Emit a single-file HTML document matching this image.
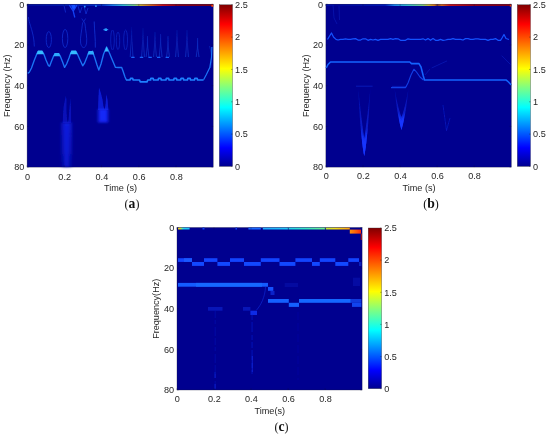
<!DOCTYPE html>
<html>
<head>
<meta charset="utf-8">
<title>Time-frequency figure</title>
<style>
html,body{margin:0;padding:0;background:#fff;}
svg{display:block;}
.t{font-family:"Liberation Sans",Arial,sans-serif;font-size:9.1px;fill:#262626;}
.cap{font-family:"Liberation Serif","DejaVu Serif",serif;font-size:12px;fill:#111;}
.cap tspan{font-weight:bold;font-size:13.6px;}
</style>
</head>
<body>
<svg width="550" height="436" viewBox="0 0 550 436">
<defs>
<linearGradient id="jet" x1="0" y1="1" x2="0" y2="0">
<stop offset="0" stop-color="#00008f"/>
<stop offset="0.115" stop-color="#0000ff"/>
<stop offset="0.365" stop-color="#00ffff"/>
<stop offset="0.49" stop-color="#80ff80"/>
<stop offset="0.605" stop-color="#ffff00"/>
<stop offset="0.88" stop-color="#ff0000"/>
<stop offset="1" stop-color="#800000"/>
</linearGradient>
<linearGradient id="topa" gradientUnits="userSpaceOnUse" x1="27" y1="0" x2="213" y2="0">
<stop offset="0" stop-color="#00109f"/>
<stop offset="0.40" stop-color="#0030d0"/>
<stop offset="0.46" stop-color="#2090ff"/>
<stop offset="0.52" stop-color="#40e0e0"/>
<stop offset="0.58" stop-color="#90f080"/>
<stop offset="0.61" stop-color="#f0d020"/>
<stop offset="0.67" stop-color="#ff7000"/>
<stop offset="0.73" stop-color="#f01000"/>
<stop offset="0.82" stop-color="#a00000"/>
<stop offset="1" stop-color="#900000"/>
</linearGradient>
<linearGradient id="topb" gradientUnits="userSpaceOnUse" x1="325.7" y1="0" x2="511.3" y2="0">
<stop offset="0" stop-color="#0014b8"/>
<stop offset="0.05" stop-color="#00089c"/>
<stop offset="0.32" stop-color="#0020c0"/>
<stop offset="0.37" stop-color="#20a0ff"/>
<stop offset="0.44" stop-color="#40e0d8"/>
<stop offset="0.52" stop-color="#90f080"/>
<stop offset="0.555" stop-color="#f0d820"/>
<stop offset="0.585" stop-color="#ff9000"/>
<stop offset="0.602" stop-color="#a04818"/>
<stop offset="0.625" stop-color="#ff8000"/>
<stop offset="0.67" stop-color="#f01800"/>
<stop offset="0.80" stop-color="#b00000"/>
<stop offset="1" stop-color="#980000"/>
</linearGradient>
<linearGradient id="fadeDown" x1="0" y1="0" x2="0" y2="1">
<stop offset="0" stop-color="#1226f0" stop-opacity="0.6"/>
<stop offset="0.6" stop-color="#1020e0" stop-opacity="0.5"/>
<stop offset="1" stop-color="#0c18c8" stop-opacity="0.3"/>
</linearGradient>
<filter id="b1" x="-20%" y="-20%" width="140%" height="140%"><feGaussianBlur stdDeviation="0.45"/></filter>
<filter id="b3" x="-30%" y="-20%" width="160%" height="140%"><feGaussianBlur stdDeviation="0.7"/></filter>
<filter id="b2" x="-50%" y="-20%" width="200%" height="140%"><feGaussianBlur stdDeviation="1.5 1.2"/></filter>
<linearGradient id="vg1" gradientUnits="userSpaceOnUse" x1="0" y1="88" x2="0" y2="156"><stop offset="0" stop-color="#1028e0" stop-opacity="0.25"/><stop offset="0.6" stop-color="#1230f0" stop-opacity="0.6"/><stop offset="0.8" stop-color="#1434ff" stop-opacity="1"/><stop offset="1" stop-color="#1434ff" stop-opacity="1"/></linearGradient>
<linearGradient id="vg2" gradientUnits="userSpaceOnUse" x1="0" y1="88" x2="0" y2="130"><stop offset="0" stop-color="#1028e0" stop-opacity="0.25"/><stop offset="0.6" stop-color="#1230f0" stop-opacity="0.6"/><stop offset="0.8" stop-color="#1434ff" stop-opacity="1"/><stop offset="1" stop-color="#1434ff" stop-opacity="1"/></linearGradient>
<linearGradient id="c1"><stop offset="0" stop-color="#f0c818"/><stop offset="0.2" stop-color="#d0e030"/><stop offset="0.35" stop-color="#60e8a0"/><stop offset="0.5" stop-color="#20d0f0"/><stop offset="1" stop-color="#20c0f8"/></linearGradient>
<linearGradient id="c2"><stop offset="0" stop-color="#20a8ff"/><stop offset="1" stop-color="#20c8f4"/></linearGradient>
<linearGradient id="c3"><stop offset="0" stop-color="#20d4ec"/><stop offset="0.5" stop-color="#38e8c0"/><stop offset="1" stop-color="#70f088"/></linearGradient>
<linearGradient id="c4"><stop offset="0" stop-color="#c0e838"/><stop offset="0.4" stop-color="#f0dc18"/><stop offset="1" stop-color="#ffa008"/></linearGradient>
<linearGradient id="c5"><stop offset="0" stop-color="#ff9008"/><stop offset="0.5" stop-color="#ff6008"/><stop offset="1" stop-color="#ff2808"/></linearGradient>
<linearGradient id="vfade" gradientUnits="userSpaceOnUse" x1="0" y1="24" x2="0" y2="58"><stop offset="0" stop-color="#1a58f8" stop-opacity="0"/><stop offset="0.5" stop-color="#1a58f8" stop-opacity="0.3"/><stop offset="1" stop-color="#2068ff" stop-opacity="0.55"/></linearGradient>
</defs>
<rect x="0" y="0" width="550" height="436" fill="#ffffff"/>

<!-- ============ (a) ============ -->
<g id="pa">
<rect x="27.1" y="4.2" width="186.1" height="162.9" fill="#00008f"/>
<rect x="27.1" y="4.2" width="186.1" height="1.6" fill="url(#topa)"/>
<rect x="211.4" y="4.6" width="1.8" height="2.2" fill="#ff4000"/>
<g fill="none" stroke="#1848f4" stroke-width="0.85" opacity="0.6" filter="url(#b1)">
<path d="M28.3 17C29.5 24 31 27 32 31C33.6 37 34.2 41 34.3 46.5"/>
<ellipse cx="48.8" cy="39.6" rx="2.6" ry="8.0"/>
<ellipse cx="65.1" cy="38.5" rx="2.7" ry="9.1"/>
<path d="M81.8 18.5C82.6 20.5 84.8 22 85 24C85.4 30 87.4 38 86.6 43C86 46.5 84.6 47.6 83.7 47.6C82.8 47.6 81.2 46.5 80.6 43C79.8 38 82 30 82.4 24C82.6 22 84.8 20.5 85.6 18.5"/>
<path d="M94.2 21.5C94.4 30 95.6 40 95.3 47.6" stroke="#1c54ff" opacity="1"/>
<path d="M64 5.5L65.6 12.5M78 6L80 13L82 7M84 6L86 14L88 8"/>
</g>
<path d="M69.4 5.2L73.2 11L76.8 5.2M73.2 11L74.8 17.5" fill="none" stroke="#1648ff" stroke-width="1.3" opacity="0.9" filter="url(#b1)"/>
<path d="M70.8 5.3H75.6L73.3 10Z" fill="#164cff" filter="url(#b1)"/>
<path d="M105.8 25V34" stroke="#1c60ff" stroke-width="0.8" opacity="0.7" filter="url(#b1)"/>
<g fill="none" stroke="#1848f4" stroke-width="0.8" opacity="0.5" filter="url(#b1)">
<ellipse cx="112.5" cy="40.0" rx="1.8" ry="10.0"/>
<ellipse cx="118" cy="40.8" rx="1.7" ry="8.8"/>
<ellipse cx="125.6" cy="40.0" rx="1.9" ry="10.0"/>
</g>
<g fill="none" stroke="url(#vfade)" stroke-width="0.8" filter="url(#b1)">
<path d="M130.2 57L131.4 37L131.6 27L131.79999999999998 37L133.0 57"/>
<path d="M141.6 57L142.8 38L143 28L143.2 38L144.4 57"/>
<path d="M146.1 57L147.3 46L147.5 36L147.7 46L148.9 57"/>
<path d="M153.6 57L154.8 42L155 32L155.2 42L156.4 57"/>
<path d="M159.2 57L160.4 44L160.6 34L160.79999999999998 44L162.0 57"/>
<path d="M166.6 57L167.8 46L168 36L168.2 46L169.4 57"/>
<path d="M175.6 57L176.8 40L177 30L177.2 40L178.4 57"/>
<path d="M185.6 57L186.8 40L187 30L187.2 40L188.4 57"/>
<path d="M196.2 57L197.4 48L197.6 38L197.79999999999998 48L199.0 57"/>
</g>
<path d="M209.5 46C212.2 55 212.2 62 210.5 68" fill="none" stroke="#1a58f8" stroke-width="0.7" opacity="0.5" filter="url(#b1)"/>
<g fill="#2a9cff" filter="url(#b1)"><rect x="104.6" y="28.4" width="2.4" height="2.6"/><rect x="103.4" y="29.2" width="4.8" height="1"/><rect x="84" y="5.8" width="1.6" height="1.6"/><rect x="95" y="5.4" width="1.8" height="1.4"/><rect x="72.2" y="5" width="3" height="3.5" fill="#1450ff"/></g>
<path d="M131.2 57.4H171" stroke="#1a68ff" stroke-width="1.3" stroke-dasharray="3.4 5.2" opacity="0.95"/>
<path d="M27.6 73.4L29.3 72.2L31.5 68L34 61L36.8 54L38 51.6H42.3L43.8 54L46 60L48.4 65.6L49.6 66.2L51.2 62L53.6 56L54.8 54H59L60.4 56.4L62.6 62L64.6 67.4L66.6 64L69 58L70.4 54L71.6 51.6H76L77.4 54L79.6 59L82.7 65.8L84.6 63L87 57L88.7 52.4H92.8L94.5 57L97 65L98.8 70L101 64L103.6 54L106.6 47L108.6 51L111.5 58L115.4 67.3L118.3 67.5H121.7L123 71L125 77L126.3 79.9" fill="none" stroke="#1a74f6" stroke-width="1.35" stroke-linejoin="round"/>
<g fill="#36bcff"><path d="M36.5 54.3L38 50.4H42.3L43.9 54.3Z"/><path d="M53.3 56.3L54.6 52.9H59L60.3 56.3Z" fill="#2eaaff"/><path d="M69.9 54.3L71.4 50.4H76L77.5 54.3Z"/><path d="M87.6 54.4L88.6 51H92.4L92.6 50.2L93.4 51.4L94.2 54.4Z" fill="#2eaaff"/><path d="M104.6 51.6L106.6 46.4L108.6 51.6Z"/></g>
<path d="M126 80H130L130.6 78.4H132.6L133.2 80H139.5L140.2 81.8H147L147.8 80H150.6H150.4L150.9 78.3H153.1L153.6 80H158.1L158.6 78.3H160.8L161.3 80H165.9L166.4 78.3H168.6L169.1 80H173.7L174.2 78.3H176.4L176.9 80H180.6L181.1 78.3H183.3L183.8 80H187.4L187.9 78.3H190.1L190.6 80H194.4L194.9 78.3H197.1L197.6 80H203.6" fill="none" stroke="#1e80ff" stroke-width="1.7" stroke-linejoin="round"/>
<path d="M203.6 79.8L206.4 74.5L209.8 67.6L211.5 57.3L211.9 47" fill="none" stroke="#1c74f8" stroke-width="1.2" stroke-linejoin="round"/>
<g filter="url(#b2)">
<rect x="61.4" y="122.5" width="10.6" height="45" fill="url(#fadeDown)"/>
<rect x="64.2" y="123" width="4.8" height="44" fill="#1424f4" opacity="0.5"/>
<rect x="98.2" y="109" width="9.8" height="13.6" fill="#1428ff" opacity="0.85"/>
<rect x="100" y="110" width="6.4" height="10" fill="#1830ff" opacity="0.5"/>
</g>
<g filter="url(#b3)">
<path d="M62.6 123L63.4 108L65.6 96L66.6 99.5L66.5 110L67 119L67.8 123Z M67.8 123L68.6 119L69.4 108L70.4 98L71 108L71.2 123Z" fill="#1226e8" opacity="0.45"/>
<path d="M98 110L98.4 98L99 87.5L100.6 92L102.6 100L103.4 106L104.6 110Z M104.6 110L105.6 104L106.4 94L107.6 100L108.4 110Z" fill="#162cff" opacity="0.6"/>
</g>
<text class="t" x="24.3" y="7.5" text-anchor="end">0</text>
<text class="t" x="24.3" y="48.2" text-anchor="end">20</text>
<text class="t" x="24.3" y="89.0" text-anchor="end">40</text>
<text class="t" x="24.3" y="129.7" text-anchor="end">60</text>
<text class="t" x="24.3" y="170.4" text-anchor="end">80</text>
<text class="t" x="27.5" y="180.1" text-anchor="middle">0</text>
<text class="t" x="64.7" y="180.1" text-anchor="middle">0.2</text>
<text class="t" x="101.9" y="180.1" text-anchor="middle">0.4</text>
<text class="t" x="139.2" y="180.1" text-anchor="middle">0.6</text>
<text class="t" x="176.4" y="180.1" text-anchor="middle">0.8</text>
<text class="t" x="235.1" y="169.7">0</text>
<text class="t" x="235.1" y="137.4">0.5</text>
<text class="t" x="235.1" y="105.1">1</text>
<text class="t" x="235.1" y="72.7">1.5</text>
<text class="t" x="235.1" y="40.4">2</text>
<text class="t" x="235.1" y="8.1">2.5</text>
<text class="t" x="120.5" y="190.6" text-anchor="middle">Time (s)</text>
<text class="t" transform="translate(9.6,85.7) rotate(-90)" text-anchor="middle">Frequency (Hz)</text>
<text class="cap" x="132.0" y="208.1" text-anchor="middle">(<tspan>a</tspan>)</text>
<path d="M27.1 4.2h1.8M213.2 4.2h-1.8M27.1 44.9h1.8M213.2 44.9h-1.8M27.1 85.7h1.8M213.2 85.7h-1.8M27.1 126.4h1.8M213.2 126.4h-1.8M27.1 167.1h1.8M213.2 167.1h-1.8M27.1 167.1v-1.8M27.1 4.2v1.8M64.3 167.1v-1.8M64.3 4.2v1.8M101.5 167.1v-1.8M101.5 4.2v1.8M138.8 167.1v-1.8M138.8 4.2v1.8M176.0 167.1v-1.8M176.0 4.2v1.8" stroke="#101030" stroke-width="0.5" fill="none" opacity="0.6"/>
<rect x="27.1" y="4.2" width="186.1" height="162.9" fill="none" stroke="#15153a" stroke-width="0.45" opacity="0.7"/>
<rect x="219.3" y="4.8" width="13.2" height="161.6" fill="url(#jet)" stroke="#30303a" stroke-width="0.35"/>
<path d="M232.5 166.4h-1.5M232.5 134.1h-1.5M232.5 101.8h-1.5M232.5 69.4h-1.5M232.5 37.1h-1.5M232.5 4.8h-1.5" stroke="#202020" stroke-width="0.5" fill="none" opacity="0.7"/>
</g>

<!-- ============ (b) ============ -->
<g id="pb">
<rect x="325.9" y="4.2" width="185.4" height="162.9" fill="#00008f"/>
<rect x="325.9" y="4.2" width="185.4" height="1.6" fill="url(#topb)"/>
<rect x="509.8" y="4.6" width="1.5" height="2" fill="#e03000"/>
<path d="M327.5 39.5L329 37L331.5 33L333.5 37L336 39.4L338.0 40.0L340.5 39.3L343.0 39.3L345.5 38.8L348.0 39.3L350.5 39.3L353.0 38.8L355.5 38.6L358.0 40.0L360.5 40.0L363.0 38.8L365.5 38.8L368.0 40.3L370.5 39.3L373.0 40.0L375.5 39.3L378.0 40.3L380.5 39.3L383.0 39.3L385.5 39.3L388.0 39.3L390.5 38.6L393.0 39.3L395.5 38.6L398.0 38.8L400.5 40.3L403.0 40.3L405.5 40.3L408.0 38.8L410.5 39.3L413.0 39.3L415.5 39.3L418.0 39.3L420.5 39.3L423.0 38.8L425.5 40.0L428.0 38.6L430.5 40.3L433.0 38.6L435.5 40.3L438.0 40.3L440.5 39.3L443.0 40.3L445.5 40.0L448.0 39.3L450.5 39.3L453.0 38.6L455.5 39.3L458.0 39.3L460.5 39.3L463.0 40.0L465.5 38.6L468.0 38.6L470.5 39.3L473.0 39.3L475.5 38.8L478.0 38.8L480.5 39.3L483.0 39.3L485.5 39.3L488.0 40.3L490.5 39.3L493.0 39.3L495.5 38.6L498.0 40.3L500.5 40.3L502 38L504 34.5L506 38.5L509 39.5" fill="none" stroke="#1452ff" stroke-width="1.25" stroke-linejoin="round"/>
<path d="M333 5L334 18L337 24M339 6L339.5 20" fill="none" stroke="#1030d8" stroke-width="0.7" opacity="0.5" filter="url(#b1)"/>
<path d="M326.2 68L328 64.5L330.5 62H409.8L411.5 63.6H419L421 67L423.3 76L424.5 79.9H506L508.5 82L511.2 85" fill="none" stroke="#1464ff" stroke-width="1.55" stroke-linejoin="round"/>
<path d="M391 87.6H405.6L408 83L411 75L413.9 69.2L416.5 72L420 77L423.5 80" fill="none" stroke="#1446f0" stroke-width="1.1" stroke-linejoin="round" opacity="0.9"/>
<path d="M356 86.2H372.6M392 86.4H407" fill="none" stroke="#1238e8" stroke-width="1" opacity="0.45"/>
<path d="M431.6 68L447 60.9M501.8 55.7L510.5 64.5M430 69L425 75" fill="none" stroke="#1030d8" stroke-width="0.8" opacity="0.5" filter="url(#b1)"/>
<g filter="url(#b1)">
<path d="M358.2 88C359.5 120 362 145 364.3 156C366.6 145 369 120 370.4 88C368 110 366 128 364.3 138C362.6 128 360.6 110 358.2 88Z" fill="url(#vg1)"/>
<path d="M361 128C362 142 363.4 152 364.3 156C365.2 152 366.6 142 367.6 128C366 135 365 140 364.3 142C363.6 140 362.4 135 361 128Z" fill="url(#vg1)"/>
<path d="M394.5 88C396 105 399 122 401.5 130C404 122 407 105 408.6 88C406 102 403.6 112 401.5 117C399.4 112 397 102 394.5 88Z" fill="url(#vg2)"/>
<path d="M398.2 112C399.4 122 400.8 127 401.5 130C402.2 127 403.6 122 404.8 112C403.6 116 402.4 119 401.5 120.4C400.6 119 399.4 116 398.2 112Z" fill="url(#vg2)"/>
<path d="M443 105L446.5 130.6L450 118" fill="none" stroke="#0c1cc8" stroke-width="0.9" opacity="0.7"/>
</g>
<text class="t" x="323.1" y="7.5" text-anchor="end">0</text>
<text class="t" x="323.1" y="48.2" text-anchor="end">20</text>
<text class="t" x="323.1" y="89.0" text-anchor="end">40</text>
<text class="t" x="323.1" y="129.7" text-anchor="end">60</text>
<text class="t" x="323.1" y="170.4" text-anchor="end">80</text>
<text class="t" x="326.3" y="179.4" text-anchor="middle">0</text>
<text class="t" x="363.4" y="179.4" text-anchor="middle">0.2</text>
<text class="t" x="400.5" y="179.4" text-anchor="middle">0.4</text>
<text class="t" x="437.5" y="179.4" text-anchor="middle">0.6</text>
<text class="t" x="474.6" y="179.4" text-anchor="middle">0.8</text>
<text class="t" x="533.1" y="169.7">0</text>
<text class="t" x="533.1" y="137.4">0.5</text>
<text class="t" x="533.1" y="105.1">1</text>
<text class="t" x="533.1" y="72.7">1.5</text>
<text class="t" x="533.1" y="40.4">2</text>
<text class="t" x="533.1" y="8.1">2.5</text>
<text class="t" x="419.0" y="190.6" text-anchor="middle">Time (s)</text>
<text class="t" transform="translate(309.2,85.7) rotate(-90)" text-anchor="middle">Frequency (Hz)</text>
<text class="cap" x="431.0" y="208.1" text-anchor="middle">(<tspan>b</tspan>)</text>
<path d="M325.9 4.2h1.8M511.3 4.2h-1.8M325.9 44.9h1.8M511.3 44.9h-1.8M325.9 85.7h1.8M511.3 85.7h-1.8M325.9 126.4h1.8M511.3 126.4h-1.8M325.9 167.1h1.8M511.3 167.1h-1.8M325.9 167.1v-1.8M325.9 4.2v1.8M363.0 167.1v-1.8M363.0 4.2v1.8M400.1 167.1v-1.8M400.1 4.2v1.8M437.1 167.1v-1.8M437.1 4.2v1.8M474.2 167.1v-1.8M474.2 4.2v1.8" stroke="#101030" stroke-width="0.5" fill="none" opacity="0.6"/>
<rect x="325.9" y="4.2" width="185.4" height="162.9" fill="none" stroke="#15153a" stroke-width="0.45" opacity="0.7"/>
<rect x="517.3" y="4.8" width="13.2" height="161.6" fill="url(#jet)" stroke="#30303a" stroke-width="0.35"/>
<path d="M530.5 166.4h-1.5M530.5 134.1h-1.5M530.5 101.8h-1.5M530.5 69.4h-1.5M530.5 37.1h-1.5M530.5 4.8h-1.5" stroke="#202020" stroke-width="0.5" fill="none" opacity="0.7"/>
</g>

<!-- ============ (c) ============ -->
<g id="pc">
<rect x="177.0" y="227.5" width="185.1" height="162.5" fill="#00008f"/>
<rect x="202.5" y="227.5" width="2.0" height="2.0" fill="#1040f0"/>
<rect x="235.5" y="227.5" width="1.5" height="2.0" fill="#1040f0"/>
<rect x="248.4" y="227.5" width="12.4" height="2.0" fill="#1868ff"/>
<rect x="178" y="227.5" width="11.6" height="2" fill="url(#c1)"/>
<rect x="262.8" y="227.5" width="25.2" height="2" fill="url(#c2)"/>
<rect x="288.4" y="227.5" width="36.8" height="2" fill="url(#c3)"/>
<rect x="325.8" y="227.5" width="24" height="2" fill="url(#c4)"/>
<rect x="349.8" y="229.6" width="11.2" height="4" fill="url(#c5)"/>
<rect x="360.8" y="233.6" width="1.0" height="6.4" fill="#c82000"/>
<rect x="178.0" y="258.2" width="14.0" height="3.7" fill="#1244ff"/>
<rect x="204.0" y="258.2" width="13.4" height="3.7" fill="#1244ff"/>
<rect x="230.0" y="258.2" width="14.0" height="3.7" fill="#1244ff"/>
<rect x="260.8" y="258.2" width="18.7" height="3.7" fill="#1244ff"/>
<rect x="295.4" y="258.2" width="16.6" height="3.7" fill="#1244ff"/>
<rect x="319.8" y="258.2" width="15.5" height="3.7" fill="#1244ff"/>
<rect x="348.3" y="258.2" width="10.7" height="3.7" fill="#1244ff"/>
<rect x="192.0" y="262.0" width="12.0" height="3.9" fill="#1248ff"/>
<rect x="217.4" y="262.0" width="12.6" height="3.9" fill="#1248ff"/>
<rect x="244.0" y="262.0" width="16.8" height="3.9" fill="#1248ff"/>
<rect x="279.5" y="262.0" width="15.9" height="3.9" fill="#1248ff"/>
<rect x="312.0" y="262.0" width="7.8" height="3.9" fill="#1248ff"/>
<rect x="335.3" y="262.0" width="13.0" height="3.9" fill="#1248ff"/>
<rect x="184.0" y="258.2" width="8.0" height="3.7" fill="#1a58ff"/>
<rect x="359.0" y="262.0" width="2.4" height="4.0" fill="#1030d0" opacity="0.7"/>
<rect x="178.0" y="282.9" width="90.0" height="3.8" fill="#145cff"/>
<rect x="196.0" y="282.9" width="66.0" height="3.8" fill="#1668ff"/>
<rect x="268.0" y="287.0" width="5.3" height="3.8" fill="#1450ff"/>
<rect x="270.5" y="291.0" width="4.0" height="4.0" fill="#1030e0" opacity="0.7"/>
<rect x="268.0" y="299.0" width="20.8" height="3.8" fill="#1460ff"/>
<rect x="288.8" y="302.8" width="10.2" height="4.1" fill="#1460ff"/>
<rect x="299.0" y="299.0" width="51.8" height="3.8" fill="#1468ff"/>
<rect x="350.8" y="299.0" width="10.6" height="3.8" fill="#1448f0" opacity="0.8"/>
<rect x="352.0" y="302.8" width="9.4" height="4.1" fill="#1450ff" opacity="0.85"/>
<rect x="208.0" y="307.0" width="14.5" height="3.7" fill="#0c20c8" opacity="0.7"/>
<rect x="243.0" y="307.0" width="7.4" height="3.7" fill="#0c20c8" opacity="0.7"/>
<rect x="250.4" y="310.7" width="6.6" height="4.3" fill="#1030f0" opacity="0.9"/>
<rect x="284.7" y="283.0" width="13.3" height="4.0" fill="#0c1cc0" opacity="0.35"/>
<rect x="353.0" y="277.7" width="7.0" height="8.3" fill="#0c1cc0" opacity="0.4"/>
<path d="M265.5 287C265 297 261 305 256.6 310" fill="none" stroke="#1030e0" stroke-width="0.8" opacity="0.7"/>
<g filter="url(#b1)" fill="none">
<path d="M215.1 311V388" stroke="#0c20d0" stroke-width="1.3" stroke-dasharray="7 2 4 3 9 2" opacity="0.28"/>
<path d="M215.1 372V378M215.1 384V389" stroke="#1028e0" stroke-width="1.4" opacity="0.5"/>
<path d="M252.1 314V374" stroke="#1028e0" stroke-width="1.3" stroke-dasharray="6 2 10 3 5 2" opacity="0.38"/>
<path d="M252.3 356V372" stroke="#1230f0" stroke-width="1.2" opacity="0.5"/>
<path d="M298 312V380" stroke="#0a18b8" stroke-width="1" stroke-dasharray="8 3" opacity="0.3"/>
</g>
<text class="t" x="174.2" y="230.8" text-anchor="end">0</text>
<text class="t" x="174.2" y="271.4" text-anchor="end">20</text>
<text class="t" x="174.2" y="312.1" text-anchor="end">40</text>
<text class="t" x="174.2" y="352.7" text-anchor="end">60</text>
<text class="t" x="174.2" y="393.3" text-anchor="end">80</text>
<text class="t" x="177.4" y="402.2" text-anchor="middle">0</text>
<text class="t" x="214.4" y="402.2" text-anchor="middle">0.2</text>
<text class="t" x="251.4" y="402.2" text-anchor="middle">0.4</text>
<text class="t" x="288.5" y="402.2" text-anchor="middle">0.6</text>
<text class="t" x="325.5" y="402.2" text-anchor="middle">0.8</text>
<text class="t" x="384.2" y="392.0">0</text>
<text class="t" x="384.2" y="359.9">0.5</text>
<text class="t" x="384.2" y="327.7">1</text>
<text class="t" x="384.2" y="295.6">1.5</text>
<text class="t" x="384.2" y="263.4">2</text>
<text class="t" x="384.2" y="231.3">2.5</text>
<text class="t" x="269.8" y="414.2" text-anchor="middle">Time(s)</text>
<text class="t" transform="translate(159.4,308.8) rotate(-90)" text-anchor="middle">Frequency(Hz)</text>
<text class="cap" x="281.6" y="431.0" text-anchor="middle">(<tspan>c</tspan>)</text>
<path d="M177.0 227.5h1.8M362.1 227.5h-1.8M177.0 268.1h1.8M362.1 268.1h-1.8M177.0 308.8h1.8M362.1 308.8h-1.8M177.0 349.4h1.8M362.1 349.4h-1.8M177.0 390.0h1.8M362.1 390.0h-1.8M177.0 390.0v-1.8M177.0 227.5v1.8M214.0 390.0v-1.8M214.0 227.5v1.8M251.0 390.0v-1.8M251.0 227.5v1.8M288.1 390.0v-1.8M288.1 227.5v1.8M325.1 390.0v-1.8M325.1 227.5v1.8" stroke="#101030" stroke-width="0.5" fill="none" opacity="0.6"/>
<rect x="177.0" y="227.5" width="185.1" height="162.5" fill="none" stroke="#15153a" stroke-width="0.45" opacity="0.7"/>
<rect x="368.2" y="228.0" width="13.4" height="160.7" fill="url(#jet)" stroke="#30303a" stroke-width="0.35"/>
<path d="M381.6 388.7h-1.5M381.6 356.6h-1.5M381.6 324.4h-1.5M381.6 292.3h-1.5M381.6 260.1h-1.5M381.6 228.0h-1.5" stroke="#202020" stroke-width="0.5" fill="none" opacity="0.7"/>
</g>
</svg>
</body>
</html>
